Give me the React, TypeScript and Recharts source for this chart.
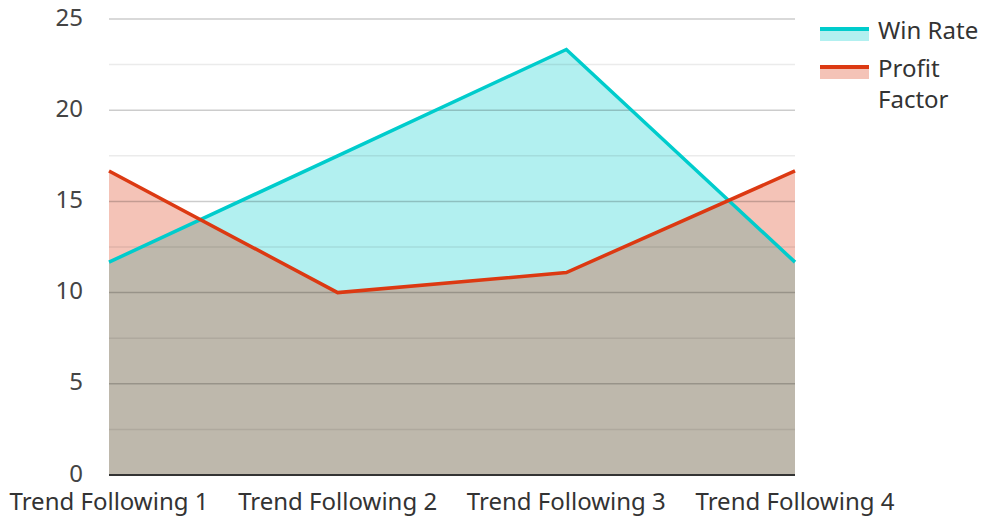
import React from 'react';
import { ComposedChart, Area, Line, XAxis, YAxis, ReferenceLine } from 'recharts';

const categories = ['Trend Following 1', 'Trend Following 2', 'Trend Following 3', 'Trend Following 4'];
const winRate = [11.67, 17.5, 23.33, 11.67];
const profitFactor = [16.67, 10, 11.1, 16.67];
const yTicks = [0, 5, 10, 15, 20, 25];
const gridValues = [2.5, 5, 7.5, 10, 12.5, 15, 17.5, 20, 22.5, 25];

const WIN = '#00cccc';
const PROFIT = '#dc3912';
const FONT = '"Noto Sans", "Open Sans", sans-serif';

const data = categories.map((name, i) => ({
  name,
  winRate: winRate[i],
  profitFactor: profitFactor[i],
}));

const legendItems = [
  { label: ['Win Rate'], color: WIN },
  { label: ['Profit', 'Factor'], color: PROFIT },
];

const Legend = () => (
  <div style={{ position: 'absolute', left: 820, top: 14, fontFamily: FONT, fontSize: 24, color: '#333' }}>
    {legendItems.map((item, i) => (
      <div key={i} style={{ display: 'flex', alignItems: 'flex-start', marginBottom: 7 }}>
        <div style={{ width: 49, height: 14, marginTop: 13, position: 'relative' }}>
          <div style={{ position: 'absolute', inset: 0, background: item.color, opacity: 0.3 }} />
          <div style={{ position: 'absolute', left: 0, right: 0, top: 0, height: 4, background: item.color }} />
        </div>
        <div style={{ marginLeft: 9, lineHeight: '31px' }}>
          {item.label.map((l, j) => (
            <div key={j}>{l}</div>
          ))}
        </div>
      </div>
    ))}
  </div>
);

export default function App() {
  return (
    <div style={{ position: 'absolute', left: 0, top: 0, width: 981, height: 517, background: '#fff' }}>
      <ComposedChart width={981} height={517} data={data} margin={{ top: 19, right: 186, bottom: 0, left: 0 }}>
        <XAxis
          dataKey="name"
          height={42}
          tickLine={false}
          axisLine={{ stroke: '#333', strokeWidth: 2 }}
          tickMargin={12}
          interval={0}
          tick={{ fill: '#333', fontSize: 24, fontFamily: FONT }}
        />
        <YAxis
          width={109}
          domain={[0, 25]}
          ticks={yTicks}
          tickLine={false}
          axisLine={false}
          tickMargin={20}
          tick={{ fill: '#444', fontSize: 24, fontFamily: FONT, dy: -2 }}
        />
        <Area
          type="linear"
          dataKey="winRate"
          stroke="none"
          fill={WIN}
          fillOpacity={0.3}
          legendType="none"
          isAnimationActive={false}
        />
        <Area
          type="linear"
          dataKey="profitFactor"
          stroke="none"
          fill={PROFIT}
          fillOpacity={0.3}
          legendType="none"
          isAnimationActive={false}
        />
        {gridValues.map((v) => (
          <ReferenceLine
            key={v}
            y={v}
            stroke="#000"
            strokeOpacity={v % 5 === 0 ? 0.2 : 0.08}
            strokeWidth={1.5}
          />
        ))}
        <Line
          type="linear"
          dataKey="winRate"
          name="Win Rate"
          stroke={WIN}
          strokeWidth={3.5}
          dot={false}
          activeDot={false}
          isAnimationActive={false}
        />
        <Line
          type="linear"
          dataKey="profitFactor"
          name="Profit Factor"
          stroke={PROFIT}
          strokeWidth={3.5}
          dot={false}
          activeDot={false}
          isAnimationActive={false}
        />
      </ComposedChart>
      <Legend />
    </div>
  );
}
